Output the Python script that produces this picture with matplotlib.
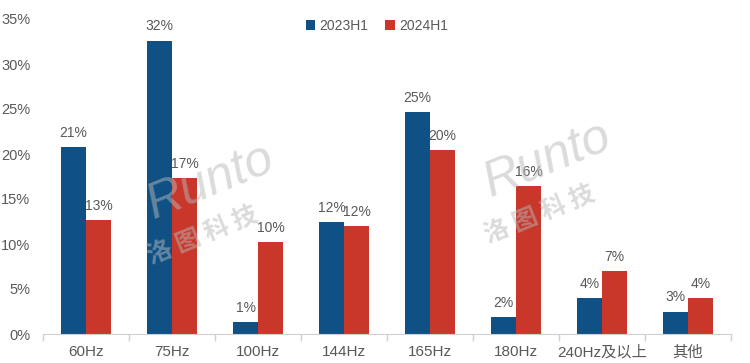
import matplotlib
matplotlib.use("Agg")
import matplotlib.pyplot as plt
import numpy as np

plt.rcParams['font.family'] = ['Liberation Sans', 'Noto Sans CJK SC', 'DejaVu Sans']

categories = ["60Hz", "75Hz", "100Hz", "144Hz", "165Hz", "180Hz", "240Hz及以上", "其他"]
series_names = ["2023H1", "2024H1"]
values_2023 = [20.8, 32.6, 1.3, 12.4, 24.7, 1.9, 4.0, 2.5]
values_2024 = [12.7, 17.3, 10.2, 12.0, 20.4, 16.4, 7.0, 4.0]
labels_2023 = ["21%", "32%", "1%", "12%", "25%", "2%", "4%", "3%"]
labels_2024 = ["13%", "17%", "10%", "12%", "20%", "16%", "7%", "4%"]
yticks = [0, 5, 10, 15, 20, 25, 30, 35]

blue = "#0F5185"
red = "#C9372B"
textc = "#595959"

fig = plt.figure(figsize=(7.5, 3.63), dpi=100)
ax = fig.add_axes([43/750, 29/363, 688/750, 315/363])

x = np.arange(len(categories))
w = 0.29
b1 = ax.bar(x - w/2, values_2023, w, color=blue, label=series_names[0], zorder=2)
b2 = ax.bar(x + w/2, values_2024, w, color=red, label=series_names[1], zorder=2)

for rect, lab in zip(b1, labels_2023):
    ax.text(rect.get_x() + rect.get_width()/2, rect.get_height() + 0.8, lab,
            ha='center', va='bottom', fontsize=10, color=textc, zorder=3)
for rect, lab in zip(b2, labels_2024):
    ax.text(rect.get_x() + rect.get_width()/2, rect.get_height() + 0.8, lab,
            ha='center', va='bottom', fontsize=10, color=textc, zorder=3)

ax.set_xlim(-0.5, len(categories) - 0.5)
ax.set_ylim(0, 35)
ax.set_yticks(yticks)
ax.set_yticklabels([f"{t}%" for t in yticks], fontsize=10.5, color=textc)
ax.tick_params(axis='y', length=0, pad=9)
ax.set_xticks(x)
ax.set_xticklabels(categories, fontsize=11, color=textc)
ax.tick_params(axis='x', length=0, pad=8)
ax.set_xticks(np.arange(len(categories) + 1) - 0.5, minor=True)
ax.tick_params(axis='x', which='minor', length=5, color="#D0D0D0", width=1)
for s in ['top', 'right', 'left']:
    ax.spines[s].set_visible(False)
ax.spines['bottom'].set_color("#D0D0D0")

leg = ax.legend(loc='upper center', bbox_to_anchor=(0.485, 1.04), ncol=2, frameon=False,
                fontsize=10, handlelength=0.7, handleheight=0.7, handletextpad=0.3,
                columnspacing=1.2, labelcolor=textc)

# watermarks
for (tx, ty) in [(0.28, 0.50), (0.73, 0.56)]:
    fig.text(tx, ty, "Runto", fontsize=36, color="#B8B8B8", alpha=0.5, rotation=22,
             ha='center', va='center', fontstyle='italic', zorder=5)
    fig.text(tx - 0.01, ty - 0.15, "洛 图 科 技", fontsize=18, color="#B8B8B8", alpha=0.5,
             rotation=22, ha='center', va='center', fontweight='bold', zorder=5,
             family=['Noto Sans CJK SC'])

fig.savefig("out.png", dpi=100)
